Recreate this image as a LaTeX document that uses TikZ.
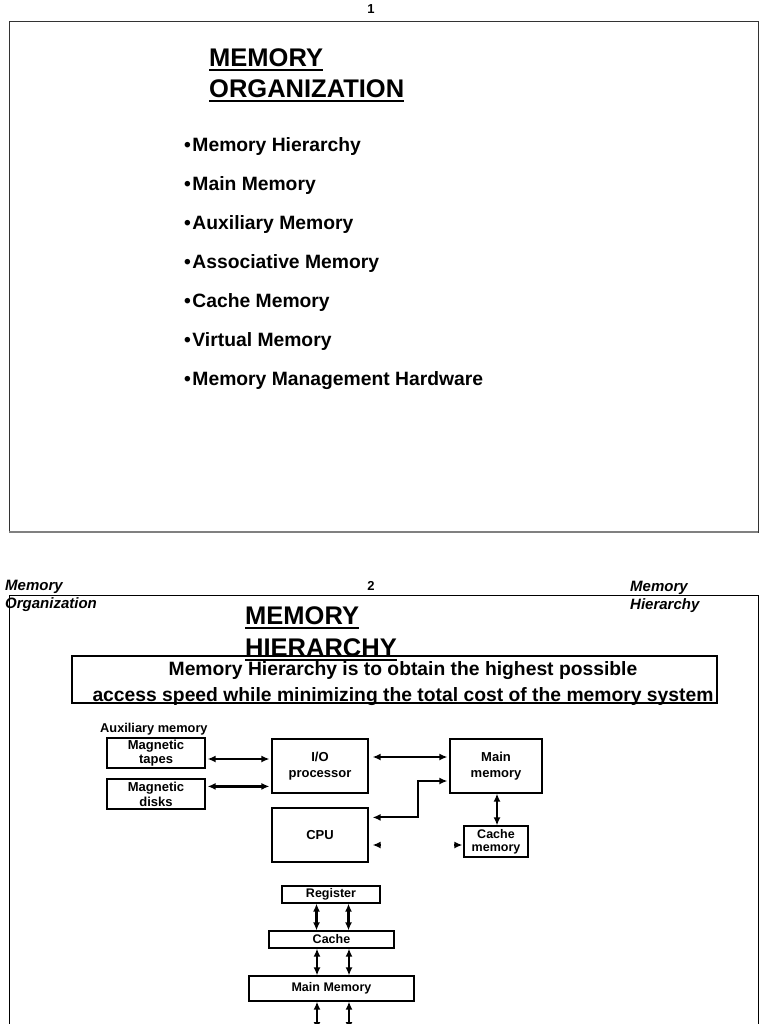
\documentclass[tikz,border=0pt]{standalone}
\usepackage{fontspec}
\setmainfont{Liberation Sans}
\usetikzlibrary{arrows.meta}
\begin{document}
\begin{tikzpicture}[x=1pt,y=-1pt,>={Latex[length=8pt,width=7pt]},line join=miter,font=\bfseries]
\tikzset{
	heading/.style={anchor=base west,inner sep=0pt,font=\fontsize{25.5}{25.5}\selectfont\bfseries},
	listitem/.style={anchor=base west,inner sep=0pt,font=\fontsize{19.3}{19.3}\selectfont\bfseries},
	pagehead/.style={anchor=base west,inner sep=0pt,font=\fontsize{15}{15}\selectfont\bfseries\itshape},
	pagenum/.style={anchor=base,inner sep=0pt,font=\fontsize{13}{13}\selectfont\bfseries},
	unitbox/.style={draw,line width=1.2pt,align=center,inner sep=0pt,font=\fontsize{13}{16}\selectfont\bfseries},
	aimtext/.style={anchor=base,inner sep=0pt,font=\fontsize{19.3}{19.3}\selectfont\bfseries},
	linkarrow/.style={<->,line width=2pt}
}
\useasboundingbox (0,0) rectangle (768,1024);
% slide 1
\node[pagenum] (n1) at (371,14) {1};
\draw[line width=1pt,black!80] (9,22) rectangle (758,532);
\draw[line width=2pt,gray] (9,532) -- (758,532);
\node[heading] (t1) at (209,67) {MEMORY};
\node[heading] (t2) at (209,98) {ORGANIZATION};
\foreach \txt [count=\i from 0] in {Memory Hierarchy,Main Memory,Auxiliary Memory,Associative Memory,Cache Memory,Virtual Memory,Memory Management Hardware}
	\node[listitem] (b\i) at (184,151.5+39*\i) {•\hspace{1.5pt}\txt};
% slide 2
\node[pagehead] (h1) at (5,590) {Memory};
\node[pagehead] (h2) at (5,608) {Organization};
\node[pagenum] (n2) at (371,590) {2};
\node[pagehead] (h3) at (630,591) {Memory};
\node[pagehead] (h4) at (630,609) {Hierarchy};
\draw[line width=1pt] (9,1024) -- (9,595) -- (758,595) -- (758,1024);
\node[heading] (t3) at (245,624) {MEMORY};
\node[heading] (t4) at (245,656) {HIERARCHY};
\foreach \t in {t1,t2,t3,t4}
	\draw[line width=2pt] ([yshift=-3.5pt]\t.base west) -- ([yshift=-3.5pt]\t.base east);
\node[draw,line width=1.2pt,minimum width=645pt,minimum height=47pt,inner sep=0pt] (aim) at (394.5,679.5) {};
\node[aimtext] (aim1) at (403,675) {Memory Hierarchy is to obtain the highest possible};
\node[aimtext] (aim2) at (403,701) {access speed while minimizing the total cost of the memory system};
% block diagram
\node[anchor=base west,inner sep=0pt,font=\fontsize{12.8}{12.8}\selectfont\bfseries] (aux) at (100,732) {Auxiliary memory};
\node[unitbox,minimum width=98pt,minimum height=30pt] (tapes) at (156,753) {\raisebox{-2.5pt}{\shortstack{Magnetic\\tapes}}};
\node[unitbox,minimum width=98pt,minimum height=30pt] (disks) at (156,794) {\raisebox{-2.5pt}{\shortstack{Magnetic\\disks}}};
\node[unitbox,minimum width=96pt,minimum height=54pt] (io) at (320,766) {I/O\\processor};
\node[unitbox,minimum width=96pt,minimum height=54pt] (cpu) at (320,835) {\raisebox{-4pt}{CPU}};
\node[unitbox,minimum width=92pt,minimum height=54pt] (main) at (496,766) {Main\\memory};
\node[unitbox,minimum width=64pt,minimum height=31pt,font=\fontsize{12.5}{13}\selectfont\bfseries] (cache) at (496,841.5) {Cache\\memory};
\draw[linkarrow,shorten <=2pt,shorten >=2pt] ([yshift=-6pt]tapes.east) -- ([yshift=-6pt]tapes.east -| io.west);
\draw[linkarrow,line width=2.6pt,shorten <=2pt,shorten >=2pt] ([yshift=-8pt]disks.north east) -- ([yshift=-8pt]disks.north east -| io.west);
\draw[linkarrow,shorten <=4pt,shorten >=2pt] ([yshift=9pt]io.east) -- ([yshift=9pt]io.east -| main.west);
\draw[linkarrow,shorten <=4pt,shorten >=2pt] ([yshift=-10pt]cpu.north east) -| (418,781) -- ([yshift=-15pt]main.west);
\draw[linkarrow,line width=2.2pt] ([xshift=1pt]main.south) -- ([xshift=1pt]cache.north);
\draw[->,line width=1.6pt] ([xshift=11pt,yshift=-10pt]cpu.east) -- ([xshift=4pt,yshift=-10pt]cpu.east);
\draw[->,line width=1.6pt] ([xshift=-9pt,yshift=-3.5pt]cache.west) -- ([xshift=-1pt,yshift=-3.5pt]cache.west);
% hierarchy
\node[unitbox,minimum width=98pt,minimum height=17pt,font=\fontsize{12.5}{12.5}\selectfont\bfseries] (reg) at (331,894.5) {Register};
\node[unitbox,minimum width=125pt,minimum height=17pt,font=\fontsize{12.5}{12.5}\selectfont\bfseries] (cl) at (331.5,939.5) {Cache};
\node[unitbox,minimum width=165pt,minimum height=25pt,font=\fontsize{12.5}{12.5}\selectfont\bfseries] (mm) at (331.5,988.5) {Main Memory};
\coordinate (below) at (331.5,1030);
\foreach \a/\b in {reg/cl,cl/mm,mm/below}
	\foreach \x in {-14.5,17.5}
		\draw[linkarrow,line width=2.4pt] ([xshift=\x pt]\a.south) -- ([xshift=\x pt]\a.south |- \b.north);
\end{tikzpicture}
\end{document}
